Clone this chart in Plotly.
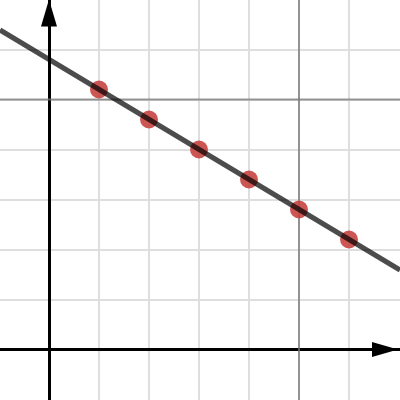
import plotly.graph_objects as go

# data
x_points = [1, 2, 3, 4, 5, 6]
y_points = [5.2, 4.6, 4.0, 3.4, 2.8, 2.2]
line_x = [-0.98, 7.02]
line_y = [6.39, 1.59]

x_range = [-0.98, 7.02]
y_range = [-1.01, 6.99]
major_at = 5

fig = go.Figure()
fig.add_trace(go.Scatter(
    x=x_points, y=y_points, mode="markers",
    marker=dict(size=18, color="rgba(199,68,64,0.9)", line=dict(width=0)),
    hoverinfo="skip"
))
fig.add_trace(go.Scatter(
    x=line_x, y=line_y, mode="lines",
    line=dict(color="rgba(0,0,0,0.7)", width=5),
    hoverinfo="skip"
))

axis_common = dict(
    dtick=1, showgrid=True, gridcolor="rgb(222,222,222)", gridwidth=1.5,
    zeroline=True, zerolinecolor="black", zerolinewidth=3,
    showticklabels=False, ticks="", showline=False, fixedrange=True
)

fig.update_layout(
    width=400, height=400,
    margin=dict(l=0, r=0, t=0, b=0),
    plot_bgcolor="white", paper_bgcolor="white",
    showlegend=False,
    xaxis=dict(range=x_range, **axis_common),
    yaxis=dict(range=y_range, **axis_common),
)

# darker major grid lines (between grid and traces)
fig.add_shape(type="line", x0=major_at, x1=major_at, y0=y_range[0], y1=y_range[1],
              line=dict(color="rgba(120,120,120,0.75)", width=2), layer="between")
fig.add_shape(type="line", x0=x_range[0], x1=x_range[1], y0=major_at, y1=major_at,
              line=dict(color="rgba(120,120,120,0.75)", width=2), layer="between")

# arrowheads at the ends of the axes
ytip = y_range[1]
fig.add_shape(type="path", path=f"M -0.16,{ytip - 0.53} L 0,{ytip + 0.01} L 0.16,{ytip - 0.53} Z",
              fillcolor="black", line=dict(width=0))
xtip = x_range[1] - 0.04
fig.add_shape(type="path", path=f"M {xtip - 0.52},-0.15 L {xtip},0 L {xtip - 0.52},0.15 Z",
              fillcolor="black", line=dict(width=0))

fig.write_html("out.html", post_script="document.body.style.margin='0';",
               config={"displayModeBar": False})
